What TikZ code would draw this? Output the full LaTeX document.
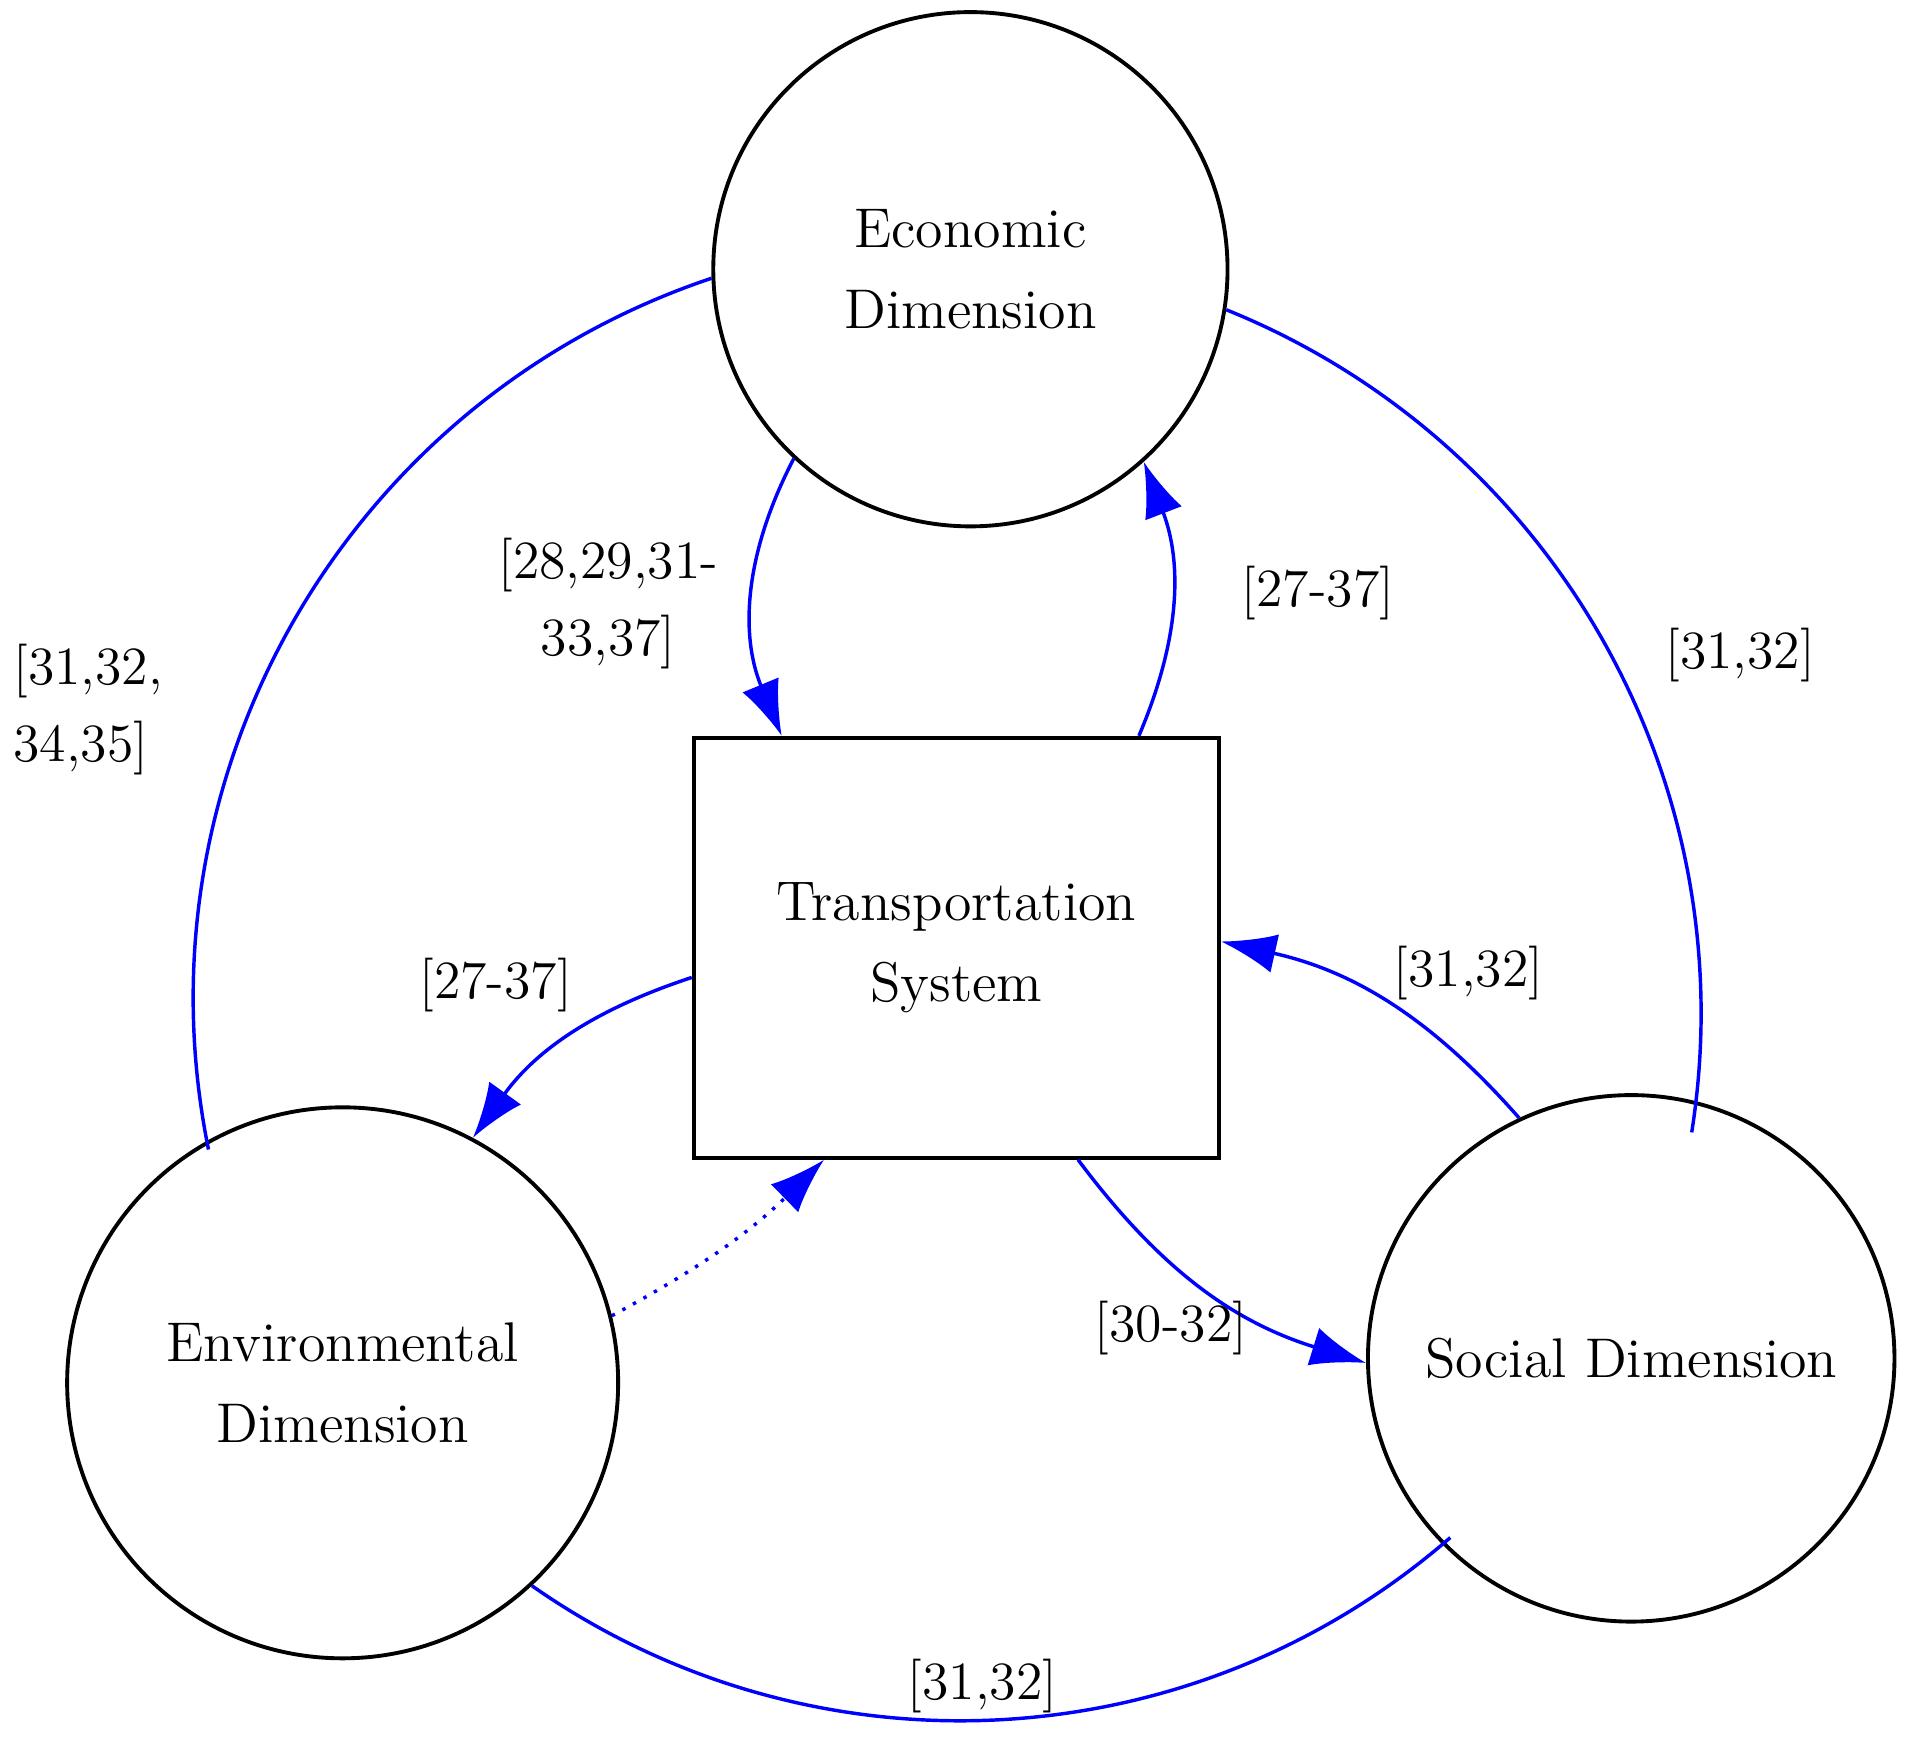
\documentclass[tikz,border=0pt]{standalone}
\usetikzlibrary{arrows.meta,calc}
\begin{document}
\begin{tikzpicture}[x=0.01cm,y=-0.01cm,
  dim/.style={circle,draw,line width=0.9pt,inner sep=0pt,align=center,font=\fontsize{13}{19}\selectfont},
  sysbox/.style={rectangle,draw,line width=0.9pt,minimum width=4.29cm,minimum height=3.43cm,align=center,font=\fontsize{13}{19}\selectfont},
  link/.style={blue,line width=0.8pt},
  arr/.style={link,-{Latex[length=0.45cm,width=0.32cm]}},
  lab/.style={font=\fontsize{12.5}{18}\selectfont,align=center}]
\useasboundingbox (0,0) rectangle (1560,1423);
\node[dim,minimum size=4.2cm] (eco) at (793,220) {Economic\\Dimension};
\node[dim,minimum size=4.5cm] (env) at (280,1130) {Environmental\\Dimension};
\node[dim,minimum size=4.3cm] (soc) at (1333,1110) {Social Dimension};
\node[sysbox] (sys) at (781.5,774.5) {Transportation\\System};
% outer arcs
\draw[link] (eco.182) arc[start angle=108.5,end angle=191.5,radius=6.2cm];
\draw[link] (eco.-9.5) arc[start angle=68,end angle=-9,radius=6.2cm];
\draw[link] (env.-47) arc[start angle=235,end angle=311,radius=6.1cm];
% arrows
\draw[arr] (eco.-133) to[bend right=25] ($(sys.north west)!0.17!(sys.north east)$);
\draw[arr] ($(sys.north west)!0.845!(sys.north east)$) to[bend right=22] (eco.-48);
\draw[arr] ($(sys.north west)!0.57!(sys.south west)$) to[bend right=18] (env.62);
\draw[arr,dotted] (env.14) to[bend right=8] ($(sys.south west)!0.25!(sys.south east)$);
\draw[arr] ($(sys.south west)!0.73!(sys.south east)$) to[bend right=18] (soc.181);
\draw[arr] (soc.115) to[bend right=18] ($(sys.north east)!0.485!(sys.south east)$);
% labels
\node[lab] (l1) at (497,493) {[28,29,31-\\33,37]};
\node[lab] (l2) at (1077,485) {[27-37]};
\node[lab,align=left] (l3) at (72,580) {[31,32,\\34,35]};
\node[lab] (l4) at (1422,535) {[31,32]};
\node[lab] (l5) at (405,805) {[27-37]};
\node[lab] (l6) at (1200,795) {[31,32]};
\node[lab] (l7) at (957,1085) {[30-32]};
\node[lab] (l8) at (803,1378) {[31,32]};
\end{tikzpicture}
\end{document}
